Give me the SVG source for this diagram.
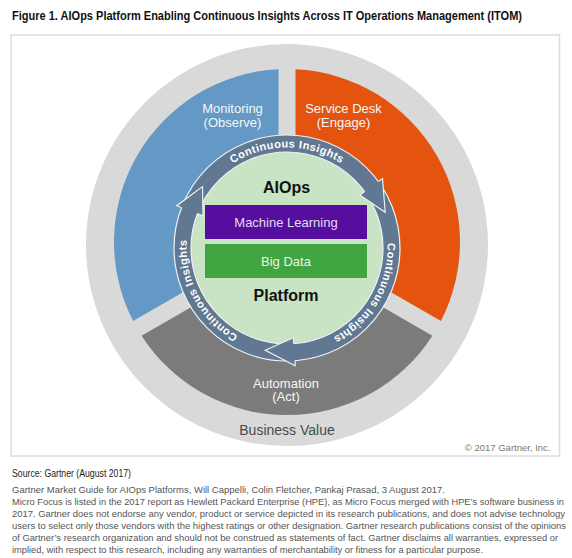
<svg xmlns="http://www.w3.org/2000/svg" xmlns:xlink="http://www.w3.org/1999/xlink" width="572" height="558" viewBox="0 0 572 558">
  <defs>
    <style>
      text { font-family: "Liberation Sans", Arial, sans-serif; }
      .title { font-size: 12px; font-weight: bold; fill: #111111; }
      .seg { font-size: 13px; fill: #f4f6f8; text-anchor: middle; }
      .bv { font-size: 14px; fill: #4a4a4a; text-anchor: middle; }
      .copy { font-size: 9.5px; fill: #777777; text-anchor: end; }
      .ring-text { font-size: 11px; font-weight: bold; fill: #ffffff; letter-spacing: 0.45px; }
      .core { font-size: 16px; font-weight: bold; fill: #111111; text-anchor: middle; }
      .bar { font-size: 13px; text-anchor: middle; }
      .src { font-size: 10.5px; fill: #222222; }
      .para { font-size: 9px; fill: #555555; }
      .head { fill: #607892; stroke: #eef1f4; stroke-width: 1.2; stroke-linejoin: miter; }
    </style>
    <path id="ringText" d="M 287 348.5 A 100.5 100.5 0 0 1 287 147.5 A 100.5 100.5 0 0 1 287 348.5"/>
  </defs>

  <rect x="0" y="0" width="572" height="558" fill="#ffffff"/>

  <text class="title" x="12" y="19.5" textLength="510" lengthAdjust="spacingAndGlyphs">Figure 1. AIOps Platform Enabling Continuous Insights Across IT Operations Management (ITOM)</text>

  <g id="frame">
    <rect x="11" y="35" width="548.5" height="421" fill="#ffffff" stroke="#dcdcdc" stroke-width="1.5"/>
  </g>

  <g id="business-value">
    <circle cx="287" cy="245" r="201" fill="#d9d9d9"/>
    <text class="bv" x="287" y="435">Business Value</text>
  </g>

  <g id="monitoring">
    <path d="M 278.5 237.1 L 278.5 69.2 A 173 173 0 0 0 133.1 321 Z" fill="#6498c5"/>
    <text class="seg" x="232.5" y="113">Monitoring</text>
    <text class="seg" x="232.5" y="126.5">(Observe)</text>
  </g>

  <g id="service-desk">
    <path d="M 295.5 237.1 L 295.5 69.2 A 173 173 0 0 1 440.9 321 Z" fill="#e5540f"/>
    <text class="seg" x="343.5" y="113">Service Desk</text>
    <text class="seg" x="343.5" y="126.5">(Engage)</text>
  </g>

  <g id="automation">
    <path d="M 287 251.8 L 432.4 335.8 A 173 173 0 0 1 141.6 335.8 Z" fill="#7b7b7b"/>
    <text class="seg" x="286" y="387.5">Automation</text>
    <text class="seg" x="286" y="401">(Act)</text>
  </g>

  <g id="aiops-platform">
    <circle cx="287" cy="248" r="96" fill="#c8e4c4"/>
  </g>

  <g id="connectors">
    <circle cx="287" cy="248" r="104.5" fill="none" stroke="#607892" stroke-width="17"/>
    <circle cx="287" cy="248" r="113" fill="none" stroke="#eef1f4" stroke-width="1.2"/>
    <circle cx="287" cy="248" r="96" fill="none" stroke="#eef1f4" stroke-width="1.2"/>
    <path class="head" d="M 378.4 181.6 L 382.5 178.6 L 385.2 212.3 L 359.8 195.1 L 364.7 191.6"/>
    <path class="head" d="M 294.9 360.7 L 295.2 365.7 L 265.3 350.2 L 293.3 337.8 L 293.7 343.8"/>
    <path class="head" d="M 181.5 207.5 L 176.8 205.7 L 202.5 186.6 L 203 215.7 L 197.4 213.6"/>
    <text class="ring-text"><textPath xlink:href="#ringText" href="#ringText" startOffset="50%" text-anchor="middle">Continuous Insights</textPath></text>
    <text class="ring-text" transform="rotate(120 287 248)"><textPath xlink:href="#ringText" href="#ringText" startOffset="50%" text-anchor="middle">Continuous Insights</textPath></text>
    <text class="ring-text" transform="rotate(242 287 248)"><textPath xlink:href="#ringText" href="#ringText" startOffset="50%" text-anchor="middle">Continuous Insights</textPath></text>
  </g>

  <g id="aiops-labels">
    <text class="core" x="286.5" y="192.5">AIOps</text>
    <text class="core" x="286" y="301">Platform</text>
  </g>

  <g id="machine-learning">
    <rect x="205" y="205" width="162" height="34" fill="#550e9e"/>
    <text class="bar" x="286" y="226.5" fill="#e4dcf2">Machine Learning</text>
  </g>

  <g id="big-data">
    <rect x="205" y="244" width="162" height="34" fill="#40a440"/>
    <text class="bar" x="286" y="266" fill="#e8f4e4">Big Data</text>
  </g>

  <text class="copy" x="550.5" y="450.5">© 2017 Gartner, Inc.</text>

  <g id="footer">
    <text class="src" x="12" y="477" textLength="119" lengthAdjust="spacingAndGlyphs">Source: Gartner (August 2017)</text>
    <text class="para" x="12" y="493" textLength="433" lengthAdjust="spacingAndGlyphs">Gartner Market Guide for AIOps Platforms, Will Cappelli, Colin Fletcher, Pankaj Prasad, 3 August 2017.</text>
    <text class="para" x="12" y="505" textLength="552" lengthAdjust="spacingAndGlyphs">Micro Focus is listed in the 2017 report as Hewlett Packard Enterprise (HPE), as Micro Focus merged with HPE’s software business in</text>
    <text class="para" x="12" y="517" textLength="553" lengthAdjust="spacingAndGlyphs">2017. Gartner does not endorse any vendor, product or service depicted in its research publications, and does not advise technology</text>
    <text class="para" x="12" y="529" textLength="554" lengthAdjust="spacingAndGlyphs">users to select only those vendors with the highest ratings or other designation. Gartner research publications consist of the opinions</text>
    <text class="para" x="12" y="541" textLength="546" lengthAdjust="spacingAndGlyphs">of Gartner’s research organization and should not be construed as statements of fact. Gartner disclaims all warranties, expressed or</text>
    <text class="para" x="12" y="553" textLength="471" lengthAdjust="spacingAndGlyphs">implied, with respect to this research, including any warranties of merchantability or fitness for a particular purpose.</text>
  </g>
</svg>
